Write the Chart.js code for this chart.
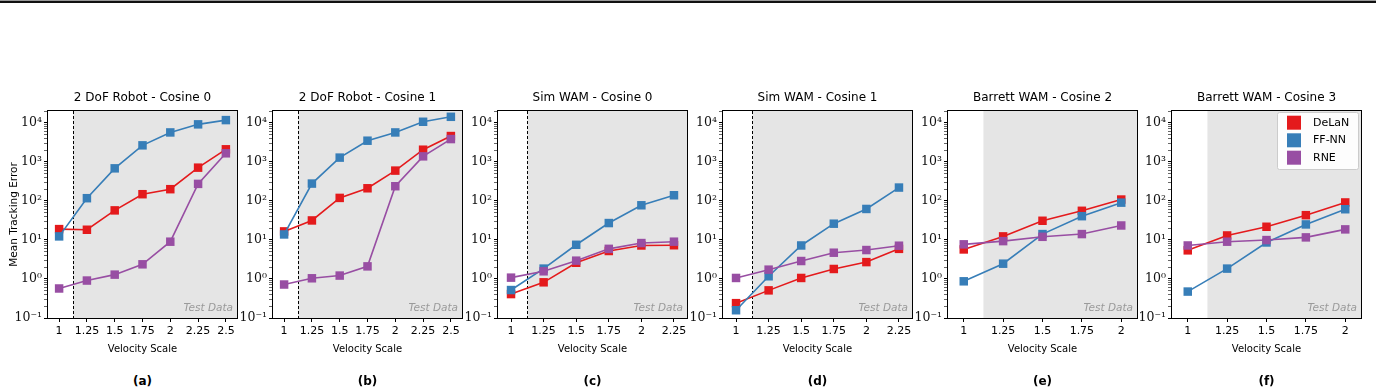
<!DOCTYPE html>
<html>
<head>
<meta charset="utf-8">
<script src="https://cdn.jsdelivr.net/npm/chart.js@4.4.1/dist/chart.umd.min.js"></script>
<style>
  html, body { margin: 0; padding: 0; background: #fff; }
  body { width: 1376px; height: 391px; position: relative; overflow: hidden; font-family: "DejaVu Sans", sans-serif; }
  canvas { position: absolute; top: 85px; }
  .sub { position: absolute; top: 374px; width: 189px; text-align: center; font-weight: bold; font-size: 12px; color: #000; }
  .rule1 { position: absolute; left: 0; top: 0; width: 1376px; height: 1px; background: #999; }
  .rule2 { position: absolute; left: 0; top: 1px; width: 1376px; height: 2px; background: #111; }
</style>
</head>
<body>
<div class="rule1"></div>
<div class="rule2"></div>
<script>
// x values (velocity scale)
var xsLong = [1, 1.25, 1.5, 1.75, 2, 2.25, 2.5];
var xsMid = [1, 1.25, 1.5, 1.75, 2, 2.25];
var xsShort = [1, 1.25, 1.5, 1.75, 2];

// (a) 2 DoF Robot - Cosine 0
var delanA = [18.9, 18.2, 57, 148, 199, 708, 2090];
var ffnnA = [12.3, 117, 680, 2640, 5650, 9100, 11700];
var rneA = [0.57, 0.91, 1.29, 2.37, 9.0, 272, 1650];
// (b) 2 DoF Robot - Cosine 1
var delanB = [16.5, 31.5, 119, 210, 595, 2040, 4570];
var ffnnB = [13.8, 277, 1280, 3470, 5650, 10600, 14200];
var rneB = [0.72, 1.04, 1.22, 2.1, 237, 1380, 3820];
// (c) Sim WAM - Cosine 0
var delanC = [0.41, 0.82, 2.6, 5.2, 7.2, 7.3];
var ffnnC = [0.52, 1.84, 7.5, 27, 77, 139];
var rneC = [1.08, 1.57, 2.94, 5.9, 8.3, 9.0];
// (d) Sim WAM - Cosine 1
var delanD = [0.24, 0.51, 1.06, 1.8, 2.7, 5.9];
var ffnnD = [0.158, 1.17, 7.2, 26, 62, 219];
var rneD = [1.06, 1.73, 2.88, 4.7, 5.5, 7.1];
// (e) Barrett WAM - Cosine 2
var delanE = [5.7, 12.3, 30.9, 55.6, 108];
var ffnnE = [0.87, 2.46, 14.1, 40.5, 90];
var rneE = [7.7, 9.3, 12.0, 14.1, 23.4];
// (f) Barrett WAM - Cosine 3
var delanF = [5.4, 13.0, 21.7, 43, 91];
var ffnnF = [0.475, 1.84, 8.6, 24.9, 61];
var rneF = [7.2, 9.0, 9.9, 11.6, 18.6];

var titles = ['2 DoF Robot - Cosine 0', '2 DoF Robot - Cosine 1', 'Sim WAM - Cosine 0',
  'Sim WAM - Cosine 1', 'Barrett WAM - Cosine 2', 'Barrett WAM - Cosine 3'];
var subLabels = ['(a)', '(b)', '(c)', '(d)', '(e)', '(f)'];
var seriesNames = ['DeLaN', 'FF-NN', 'RNE'];

// y axis (log)
var yTickVals = [0.1, 1, 10, 100, 1000, 10000];
var yTickLabels = ['10\u207B\u00B9', '10\u2070', '10\u00B9', '10\u00B2', '10\u00B3', '10\u2074'];

var colors = ['#e41a1c', '#377eb8', '#984ea3'];
var yMin = 0.1, yMax = 20000;
var trainEnd = 1.125;

var panels = [
  { xs: xsLong, ys: [delanA, ffnnA, rneA], xMax: 2.6, dashed: true },
  { xs: xsLong, ys: [delanB, ffnnB, rneB], xMax: 2.6, dashed: true },
  { xs: xsMid, ys: [delanC, ffnnC, rneC], xMax: 2.35, dashed: true },
  { xs: xsMid, ys: [delanD, ffnnD, rneD], xMax: 2.35, dashed: true },
  { xs: xsShort, ys: [delanE, ffnnE, rneE], xMax: 2.1, dashed: false },
  { xs: xsShort, ys: [delanF, ffnnF, rneF], xMax: 2.1, dashed: false }
];

var plotLefts = [48, 273, 498, 723, 948, 1172];
var plotW = 189;

// all y tick marks, majors + minors
var yAllTicks = [];
yTickVals.forEach(function (d) {
  for (var m = 1; m <= 9; m++) {
    var v = m === 1 ? d : d * m;
    if (v <= yMax) yAllTicks.push(v);
  }
});

Chart.defaults.font.family = '"DejaVu Sans", sans-serif';
Chart.defaults.color = '#000';

var decor = {
  id: 'decor',
  beforeDatasetsDraw: function (chart) {
    var o = chart.options.plugins.decor;
    var a = chart.chartArea, ctx = chart.ctx;
    var xs = chart.scales.x.getPixelForValue(trainEnd);
    ctx.save();
    ctx.fillStyle = '#e5e5e5';
    ctx.fillRect(xs, a.top, a.right - xs, a.bottom - a.top);
    if (o.dashed) {
      ctx.strokeStyle = '#000';
      ctx.lineWidth = 1;
      ctx.setLineDash([3, 2]);
      ctx.beginPath();
      ctx.moveTo(Math.round(xs) + 0.5, a.top);
      ctx.lineTo(Math.round(xs) + 0.5, a.bottom);
      ctx.stroke();
      ctx.setLineDash([]);
    }
    ctx.fillStyle = '#9a9a9a';
    ctx.font = 'italic 10.5px "DejaVu Sans", sans-serif';
    ctx.textAlign = 'right';
    ctx.textBaseline = 'middle';
    ctx.fillText('Test Data', a.right - 4, a.bottom - 10);
    ctx.restore();
  },
  afterDatasetsDraw: function (chart) {
    var a = chart.chartArea, ctx = chart.ctx;
    ctx.save();
    ctx.strokeStyle = '#000';
    ctx.lineWidth = 1;
    ctx.strokeRect(a.left - 0.5, a.top - 0.5, a.right - a.left + 1, a.bottom - a.top + 1);
    if (chart.options.plugins.decor.legend) {
      var bw = 81, bh = 57;
      var bx = a.right - 3 - bw, by = a.top + 1;
      ctx.fillStyle = 'rgba(255,255,255,0.9)';
      ctx.strokeStyle = '#cccccc';
      ctx.beginPath();
      ctx.roundRect(bx + 0.5, by + 0.5, bw, bh, 2);
      ctx.fill();
      ctx.stroke();
      ctx.font = '11px "DejaVu Sans", sans-serif';
      ctx.textAlign = 'left';
      ctx.textBaseline = 'middle';
      var rows = [10.7, 28.3, 45.7];
      chart.data.datasets.forEach(function (ds, i) {
        var cy = by + rows[i];
        ctx.fillStyle = ds.borderColor;
        ctx.fillRect(bx + 10, cy - 7, 14, 14);
        ctx.fillStyle = '#000';
        ctx.fillText(ds.label, bx + 36, cy);
      });
    }
    ctx.restore();
  }
};

panels.forEach(function (p, k) {
  var cv = document.createElement('canvas');
  cv.width = 48 + plotW + 10;
  cv.height = 273;
  cv.style.left = (plotLefts[k] - 48) + 'px';
  document.body.appendChild(cv);

  var sub = document.createElement('div');
  sub.className = 'sub';
  sub.style.left = plotLefts[k] + 'px';
  sub.textContent = subLabels[k];
  document.body.appendChild(sub);

  var datasets = p.ys.map(function (vals, i) {
    return {
      label: seriesNames[i],
      data: p.xs.map(function (x, j) { return { x: x, y: vals[j] }; }),
      borderColor: colors[i],
      backgroundColor: colors[i],
      borderWidth: 1.6,
      pointStyle: 'rect',
      pointRadius: 6,
      pointHoverRadius: 6,
      pointBorderWidth: 0,
      tension: 0,
      order: 2 - i
    };
  });

  new Chart(cv, {
    type: 'line',
    data: { datasets: datasets },
    plugins: [decor],
    options: {
      responsive: false,
      animation: false,
      events: [],
      layout: { padding: { left: 0, right: 10, top: 0, bottom: 0 } },
      plugins: {
        legend: { display: false },
        tooltip: { enabled: false },
        title: {
          display: true, text: titles[k], fullSize: false,
          font: { size: 12, weight: 'normal' }, color: '#000',
          padding: { top: 6, bottom: 5.6 }
        },
        decor: { dashed: p.dashed, legend: k === 5 }
      },
      scales: {
        x: {
          type: 'linear', min: 0.9, max: p.xMax,
          afterBuildTicks: function (s) { s.ticks = p.xs.map(function (v) { return { value: v }; }); },
          afterFit: function (s) { s.height = 40; },
          ticks: {
            autoSkip: false, maxRotation: 0, padding: 3, color: '#000',
            font: { size: 11 },
            callback: function (v) { return String(v); }
          },
          grid: { display: true, drawOnChartArea: false, drawTicks: true, tickLength: 4, tickColor: '#000', tickWidth: 1 },
          border: { display: false },
          title: { display: true, text: 'Velocity Scale', font: { size: 10 }, color: '#000', padding: { top: 0, bottom: 3 } }
        },
        y: {
          type: 'logarithmic', min: yMin, max: yMax,
          afterBuildTicks: function (s) { s.ticks = yAllTicks.map(function (v) { return { value: v }; }); },
          afterFit: function (s) { s.width = 48; },
          ticks: {
            autoSkip: false, padding: 2, color: '#111',
            font: { family: '"DejaVu Serif", serif', size: 12.5 },
            callback: function (v) {
              var i = yTickVals.indexOf(v);
              return i >= 0 ? yTickLabels[i] : '';
            }
          },
          grid: {
            display: true, drawOnChartArea: false, drawTicks: true, tickLength: 4, tickColor: '#000',
            tickWidth: function (c) { return c.tick && yTickVals.indexOf(c.tick.value) >= 0 ? 1 : 0.6; }
          },
          border: { display: false },
          title: { display: k === 0, text: 'Mean Tracking Error', font: { size: 10.5 }, color: '#000', padding: { top: 8, bottom: 0 } }
        }
      }
    }
  });
});
</script>
</body>
</html>
